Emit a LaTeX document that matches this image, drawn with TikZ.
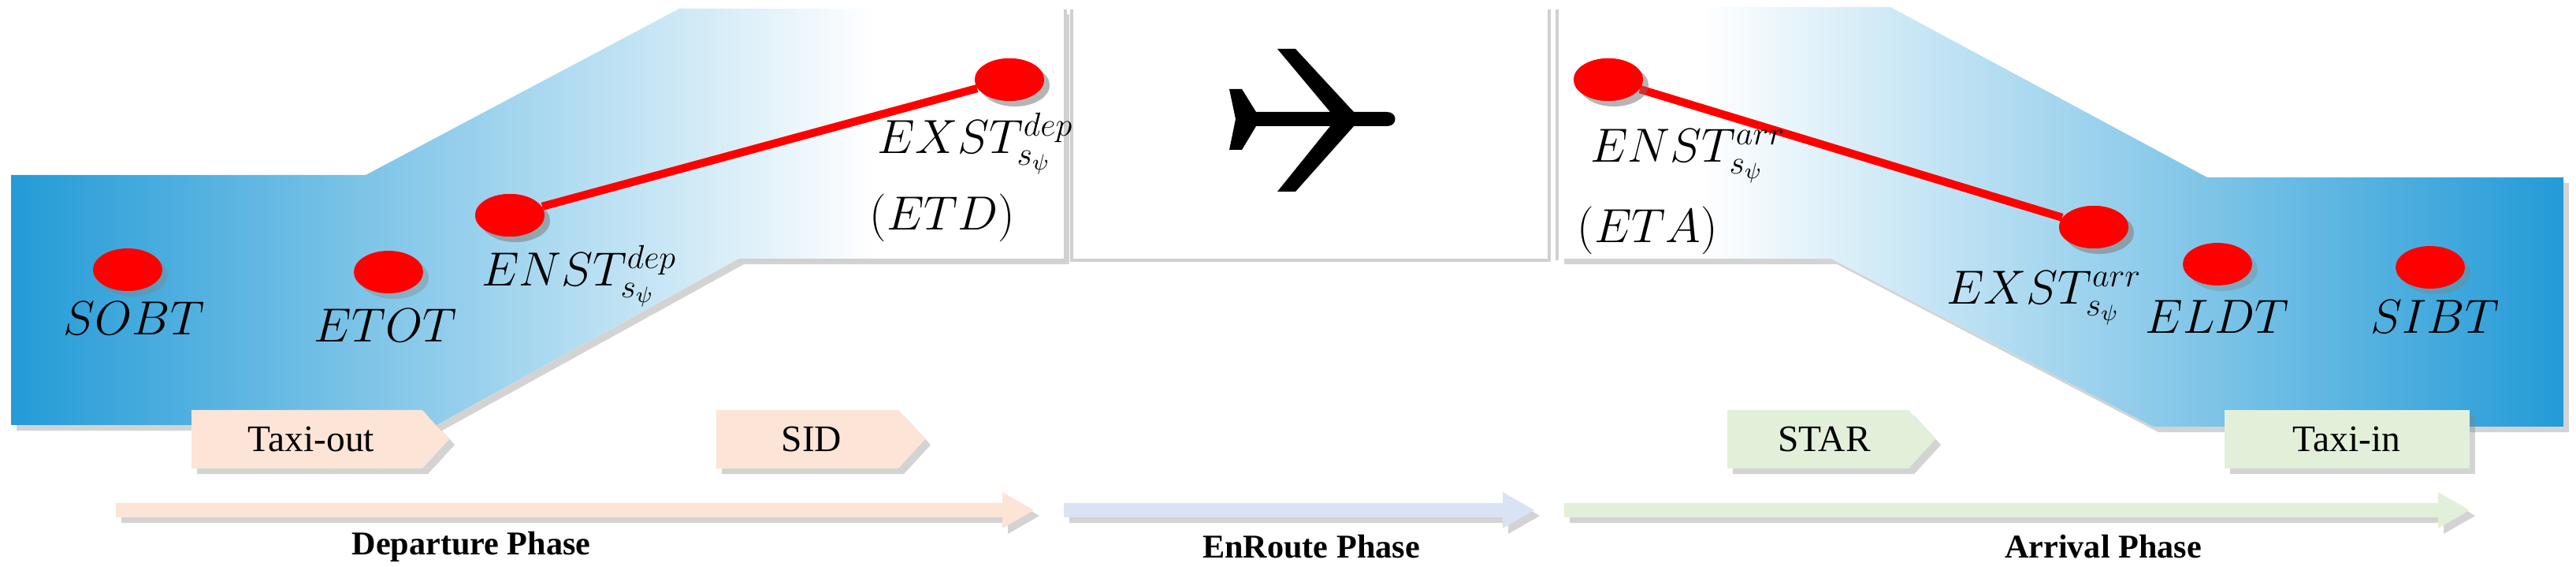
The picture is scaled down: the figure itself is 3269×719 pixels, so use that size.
\documentclass[tikz,border=0pt]{standalone}
\usepackage{fontspec}
\setmainfont{Liberation Serif}
\usetikzlibrary{shadows,shapes.geometric}
\definecolor{blueD}{HTML}{239BD7}
\definecolor{peach}{HTML}{FCE4D6}
\definecolor{mint}{HTML}{E2F0D9}
\definecolor{lblue}{HTML}{DAE3F3}
\definecolor{sep}{HTML}{D0D0D0}
\tikzset{
  sh/.style={drop shadow={opacity=0.35,shadow xshift=2pt,shadow yshift=-2pt}},
  dot/.style={ellipse, fill=red, minimum width=88*0.01cm, minimum height=54*0.01cm, inner sep=0pt, sh},
  lab/.style={font=\fontsize{17}{20}\selectfont, inner sep=0pt},
  boxlab/.style={font=\fontsize{13.5}{16}\selectfont, inner sep=0pt},
  phlab/.style={font=\fontsize{12}{14}\selectfont\bfseries, inner sep=0pt},
  redline/.style={red, line width=2.9pt},
  seplin/.style={sep, line width=1.2pt}
}
\begin{document}
\begin{tikzpicture}[x=0.01cm,y=-0.01cm]
\useasboundingbox (0,0) rectangle (3269,719);
% departure band
\def\deppath{(14,222) -- (464,222) -- (862,11) -- (1350,11) -- (1350,328) -- (937,328) -- (554,539) -- (14,539) -- cycle}
\fill[white, sh] \deppath;
\begin{scope}
\clip \deppath;
\shade[left color=blueD, right color=white] (14,0) rectangle (1110,560);
\end{scope}
% arrival band
\def\arrpath{(1978,9) -- (2399,9) -- (2801,225) -- (3253,225) -- (3253,541) -- (2732,541) -- (2324,328) -- (1978,328) -- cycle}
\fill[white, sh] \arrpath;
\begin{scope}
\clip \arrpath;
\shade[left color=white, right color=blueD] (2160,0) rectangle (3253,560);
\end{scope}
% separators
\draw[seplin] (1352,12) -- (1352,330) (1360,12) -- (1360,330) -- (1966,330) -- (1966,12) (1976,12) -- (1976,330);
\draw[seplin] (937,330) -- (1352,330);
% plane
\fill (1560,113) -- (1576,113) -- (1594,142) -- (1688,142) -- (1621,62) -- (1644,62) -- (1718,142) -- (1760,142) .. controls (1774,142) and (1774,160) .. (1760,160) -- (1718,160) -- (1644,243) -- (1621,243) -- (1688,160) -- (1594,160) -- (1576,190) -- (1560,190) -- (1568,151) -- cycle;
% red lines & dots
\node[dot] (sobt) at (162,342) {};
\node[dot] (etot) at (493,345) {};
\node[dot] (enstd) at (647,273) {};
\node[dot] (exstd) at (1281,101) {};
\node[dot] (ensta) at (2041,101) {};
\node[dot] (exsta) at (2657,288) {};
\node[dot] (eldt) at (2814,335) {};
\node[dot] (sibt) at (3084,339) {};
\draw[redline] (enstd) -- (exstd);
\draw[redline] (ensta) -- (exsta);
\node[dot] at (647,273) {};
\node[dot] at (1281,101) {};
\node[dot] at (2041,101) {};
\node[dot] at (2657,288) {};
% labels
\node[lab] (lsobt) at (170,404) {$SOBT$};
\node[lab] (letot) at (489,413) {$ETOT$};
\node[lab] (lenstd) at (735,350) {$ENST^{dep}_{s_\psi}$};
\node[lab] (lexstd) at (1238,182) {$EXST^{dep}_{s_\psi}$};
\node[lab] (letd) at (1196,276) {$(ETD)$};
\node[lab] (lensta) at (2142,198) {$ENST^{arr}_{s_\psi}$};
\node[lab] (leta) at (2091,292) {$(ETA)$};
\node[lab] (lexsta) at (2594,378) {$EXST^{arr}_{s_\psi}$};
\node[lab] (leldt) at (2814,402) {$ELDT$};
\node[lab] (lsibt) at (3090,402) {$SIBT$};
% phase boxes
\fill[peach, sh] (243,520) -- (536,520) -- (570,557) -- (536,594) -- (243,594) -- cycle;
\node[boxlab] (taxiout) at (395,557) {Taxi-out};
\fill[peach, sh] (909,520) -- (1140,520) -- (1174,557) -- (1140,594) -- (909,594) -- cycle;
\node[boxlab] (sid) at (1030,557) {SID};
\fill[mint, sh] (2192,520) -- (2422,520) -- (2456,557) -- (2422,594) -- (2192,594) -- cycle;
\node[boxlab] (star) at (2315,557) {STAR};
\fill[mint, sh] (2823,520) rectangle (3134,594);
\node[boxlab] (taxiin) at (2978,557) {Taxi-in};
% phase arrows
\fill[peach, sh] (147,638) -- (1272,638) -- (1272,624) -- (1312,647) -- (1272,670) -- (1272,656) -- (147,656) -- cycle;
\fill[lblue, sh] (1350,638) -- (1907,638) -- (1907,624) -- (1947,647) -- (1907,670) -- (1907,656) -- (1350,656) -- cycle;
\fill[mint, sh] (1985,638) -- (3094,638) -- (3094,624) -- (3134,647) -- (3094,670) -- (3094,656) -- (1985,656) -- cycle;
\node[phlab] (dep) at (598,693) {Departure Phase};
\node[phlab] (enr) at (1664,693) {EnRoute Phase};
\node[phlab] (arr) at (2669,693) {Arrival Phase};
\end{tikzpicture}
\end{document}
